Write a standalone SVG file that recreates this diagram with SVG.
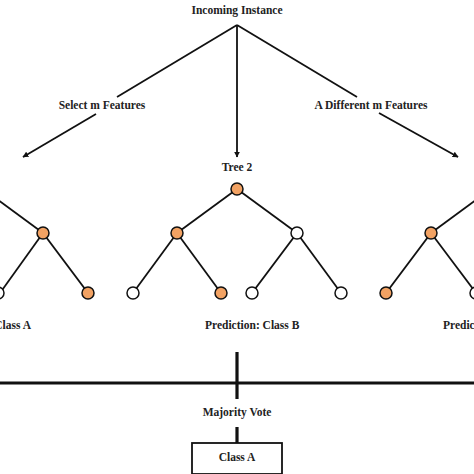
<svg xmlns="http://www.w3.org/2000/svg" width="474" height="474" viewBox="0 0 474 474">
<style>
text{font-family:"Liberation Serif","Times New Roman",serif;font-weight:bold;font-size:11.5px;fill:#222;text-anchor:middle}
.ln{stroke:#111;stroke-width:1.8;fill:none}
.thick{stroke:#111;stroke-width:3.2;fill:none}
.on{fill:#F2A263;stroke:#111;stroke-width:1.5}
.off{fill:#fff;stroke:#111;stroke-width:1.5}
</style>
<defs>
<marker id="ah" viewBox="0 0 10 10" refX="9" refY="5" markerWidth="6" markerHeight="6" orient="auto" markerUnits="userSpaceOnUse">
<path d="M0,0 L10,5 L0,10 z" fill="#111"/>
</marker>
</defs>
<g id="top-label"><text x="237" y="14">Incoming Instance</text></g>
<g id="connectors">
<line class="ln" x1="237" y1="25" x2="117" y2="97"/>
<line class="ln" x1="237" y1="25" x2="357" y2="97"/>
<line class="ln" x1="237" y1="25" x2="237" y2="157" marker-end="url(#ah)"/>
<line class="ln" x1="96" y1="114" x2="23" y2="157" marker-end="url(#ah)"/>
<line class="ln" x1="379" y1="113" x2="458" y2="157" marker-end="url(#ah)"/>
<line class="thick" x1="0" y1="383" x2="474" y2="383"/>
<line class="thick" x1="237" y1="352" x2="237" y2="399"/>
<line class="thick" x1="237" y1="427" x2="237" y2="443"/>
</g>
<g id="label-left"><text x="102" y="109">Select m Features</text></g>
<g id="label-right"><text x="371" y="109">A Different m Features</text></g>
<g id="tree1">
<line class="ln" x1="-17" y1="189" x2="43" y2="233"/>
<line class="ln" x1="43" y1="233" x2="0" y2="293"/>
<line class="ln" x1="43" y1="233" x2="88" y2="293"/>
<circle class="on" cx="43" cy="233" r="6"/>
<circle class="off" cx="-2" cy="293" r="6"/>
<circle class="on" cx="88" cy="293" r="6"/>
<text x="31" y="329" style="text-anchor:end">Prediction: Class A</text>
</g>
<g id="tree2">
<text x="237" y="171">Tree 2</text>
<line class="ln" x1="237" y1="189" x2="177" y2="233"/>
<line class="ln" x1="237" y1="189" x2="297" y2="233"/>
<line class="ln" x1="177" y1="233" x2="133" y2="293"/>
<line class="ln" x1="177" y1="233" x2="221" y2="293"/>
<line class="ln" x1="297" y1="233" x2="252" y2="293"/>
<line class="ln" x1="297" y1="233" x2="341" y2="293"/>
<circle class="on" cx="237" cy="189" r="6"/>
<circle class="on" cx="177" cy="233" r="6"/>
<circle class="off" cx="297" cy="233" r="6"/>
<circle class="off" cx="133" cy="293" r="6"/>
<circle class="on" cx="221" cy="293" r="6"/>
<circle class="off" cx="252" cy="293" r="6"/>
<circle class="off" cx="341" cy="293" r="6"/>
<text x="205" y="329" style="text-anchor:start">Prediction: Class B</text>
</g>
<g id="tree3">
<line class="ln" x1="491" y1="189" x2="431" y2="233"/>
<line class="ln" x1="431" y1="233" x2="386" y2="293"/>
<line class="ln" x1="431" y1="233" x2="476" y2="293"/>
<circle class="on" cx="431" cy="233" r="6"/>
<circle class="on" cx="386" cy="293" r="6"/>
<circle class="off" cx="476" cy="293" r="6"/>
<text x="443" y="329" style="text-anchor:start">Prediction: Class A</text>
</g>
<g id="vote-label"><text x="237" y="416">Majority Vote</text></g>
<g id="result">
<rect x="192" y="443" width="90" height="31" fill="#fff" stroke="#111" stroke-width="1.8"/>
<text x="237" y="461">Class A</text>
</g>
</svg>
